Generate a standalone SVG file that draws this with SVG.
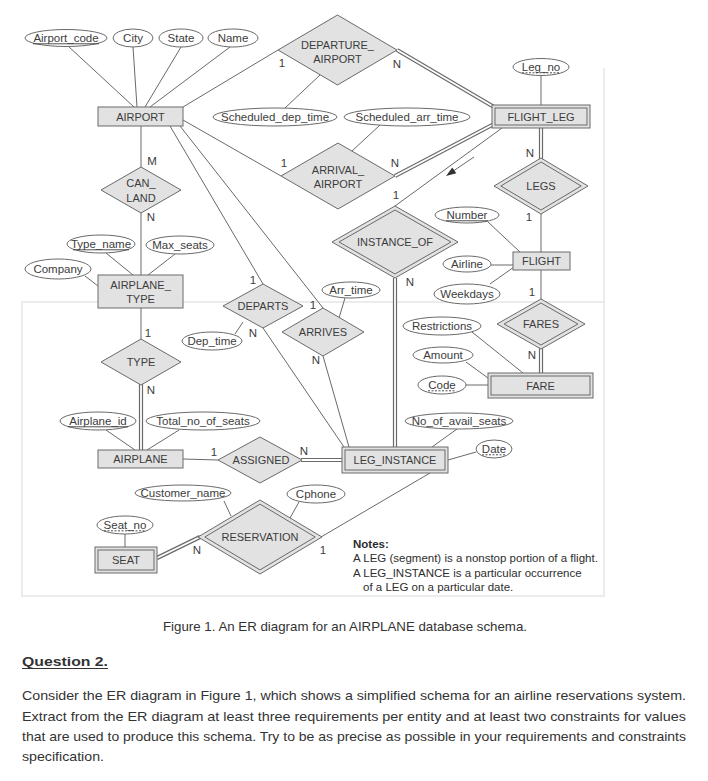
<svg xmlns="http://www.w3.org/2000/svg" width="708" height="781" viewBox="0 0 708 781">
<style>
.ln{stroke:#6a6a6a;stroke-width:1;fill:none}
.dbo{stroke:#6a6a6a;stroke-width:4.2;fill:none}
.dbi{stroke:#ffffff;stroke-width:1.8;fill:none}
.ent{fill:#e2e2e2;stroke:#6a6a6a;stroke-width:1}
.inner{fill:none;stroke:#6a6a6a;stroke-width:1}
.att{fill:#ffffff;stroke:#6a6a6a;stroke-width:1}
.t{font-family:"Liberation Sans",Arial,Helvetica,sans-serif;font-size:11.5px;fill:#3c3c3c;text-anchor:middle}
.c{font-family:"Liberation Sans",Arial,Helvetica,sans-serif;font-size:11px;fill:#3c3c3c;text-anchor:middle}
.ul{stroke:#3c3c3c;stroke-width:0.9}
.ud{stroke:#3c3c3c;stroke-width:0.9;stroke-dasharray:2,1.5}
.note{font-family:"Liberation Sans",Arial,Helvetica,sans-serif;font-size:11.5px;fill:#2e2e2e}
.body{font-family:"Liberation Sans",Arial,sans-serif;font-size:13px;fill:#333333}
.frame{stroke:#e6e6e6;stroke-width:1.5;fill:none}
</style>

<g id="frame">
<path class="frame" d="M604,68 V596 H22 V302 H604"/>
</g>

<g id="connectors">
<!-- AIRPORT attributes -->
<line class="ln" x1="68" y1="46" x2="134" y2="107"/>
<line class="ln" x1="133" y1="47" x2="137" y2="107"/>
<line class="ln" x1="181" y1="47" x2="145" y2="107"/>
<line class="ln" x1="230" y1="47" x2="150" y2="107"/>
<!-- AIRPORT to DEPARTURE_AIRPORT -->
<line class="ln" x1="183" y1="107" x2="278" y2="50"/>
<line class="ln" x1="285" y1="108" x2="320" y2="75"/>
<line class="dbo" x1="397" y1="50" x2="494" y2="107"/>
<line class="dbi" x1="397" y1="50" x2="494" y2="107"/>
<!-- ARRIVAL_AIRPORT -->
<line class="ln" x1="183" y1="120" x2="281" y2="176"/>
<line class="ln" x1="380" y1="125" x2="352" y2="151"/>
<line class="dbo" x1="395" y1="176" x2="494" y2="124"/>
<line class="dbi" x1="395" y1="176" x2="494" y2="124"/>
<!-- INSTANCE_OF -->
<line class="ln" x1="395" y1="206" x2="502" y2="128"/>
<line class="dbo" x1="395" y1="278" x2="395" y2="449"/>
<line class="dbi" x1="395" y1="278" x2="395" y2="449"/>
<!-- Instances arrow -->
<line class="ln" x1="474" y1="157" x2="454" y2="170.5"/>
<polygon points="446,176 456.3,173.3 452.3,167.5" fill="#333"/>
<!-- FLIGHT_LEG / LEGS / FLIGHT -->
<line class="ln" x1="541" y1="75" x2="541" y2="105"/>
<line class="dbo" x1="541" y1="126" x2="541" y2="160"/>
<line class="dbi" x1="541" y1="126" x2="541" y2="160"/>
<line class="ln" x1="541" y1="214" x2="541" y2="252"/>
<line class="ln" x1="488" y1="222" x2="520" y2="252"/>
<line class="ln" x1="491" y1="265" x2="513" y2="265"/>
<line class="ln" x1="490" y1="284" x2="514" y2="267"/>
<line class="ln" x1="541" y1="270" x2="541" y2="299"/>
<!-- FARES / FARE -->
<line class="dbo" x1="541" y1="347" x2="541" y2="375"/>
<line class="dbi" x1="541" y1="347" x2="541" y2="375"/>
<line class="ln" x1="472" y1="332" x2="523" y2="373"/>
<line class="ln" x1="466" y1="362" x2="488" y2="378"/>
<line class="ln" x1="466" y1="385" x2="488" y2="385"/>
<!-- LEG_INSTANCE attributes -->
<line class="ln" x1="457" y1="429" x2="432" y2="447"/>
<line class="ln" x1="476" y1="452" x2="448" y2="460"/>
<!-- CAN_LAND / AIRPLANE_TYPE -->
<line class="ln" x1="141" y1="126" x2="141" y2="167"/>
<line class="ln" x1="141" y1="213" x2="141" y2="275"/>
<line class="ln" x1="106" y1="253" x2="133" y2="275"/>
<line class="ln" x1="175" y1="254" x2="148" y2="275"/>
<line class="ln" x1="85" y1="276" x2="98" y2="286"/>
<!-- TYPE / AIRPLANE -->
<line class="ln" x1="141" y1="308" x2="141" y2="339"/>
<line class="dbo" x1="141" y1="384" x2="141" y2="451"/>
<line class="dbi" x1="141" y1="384" x2="141" y2="451"/>
<line class="ln" x1="106" y1="430" x2="135" y2="450"/>
<line class="ln" x1="179" y1="430" x2="147" y2="450"/>
<!-- ASSIGNED -->
<line class="ln" x1="183" y1="459" x2="218" y2="460"/>
<line class="dbo" x1="301" y1="460" x2="344" y2="460"/>
<line class="dbi" x1="301" y1="460" x2="344" y2="460"/>
<!-- DEPARTS / ARRIVES -->
<line class="ln" x1="170" y1="126" x2="263" y2="284"/>
<line class="ln" x1="180" y1="126" x2="323" y2="308"/>
<line class="ln" x1="235" y1="334" x2="243" y2="322"/>
<line class="ln" x1="263" y1="328" x2="344" y2="447"/>
<line class="ln" x1="345" y1="298" x2="339" y2="318"/>
<line class="ln" x1="323" y1="356" x2="349" y2="447"/>
<!-- RESERVATION -->
<line class="ln" x1="224" y1="501" x2="231" y2="516"/>
<line class="ln" x1="299" y1="502" x2="290" y2="518"/>
<line class="ln" x1="125" y1="534" x2="125" y2="547"/>
<line class="dbo" x1="157" y1="558" x2="200" y2="537"/>
<line class="dbi" x1="157" y1="558" x2="200" y2="537"/>
<line class="ln" x1="321" y1="537" x2="430" y2="473"/>
</g>

<!-- Entities -->
<g id="AIRPORT"><rect class="ent" x="98" y="107" width="85" height="19"/><text class="c" x="140.5" y="120.5">AIRPORT</text></g>
<g id="FLIGHT_LEG"><rect class="ent" x="492" y="105" width="98" height="23"/><rect class="inner" x="495" y="108" width="92" height="17"/><text class="c" x="541" y="120.5">FLIGHT_LEG</text></g>
<g id="FLIGHT"><rect class="ent" x="513" y="252" width="57" height="18"/><text class="c" x="541.5" y="265">FLIGHT</text></g>
<g id="FARE"><rect class="ent" x="488" y="373" width="105" height="25"/><rect class="inner" x="491" y="376" width="99" height="19"/><text class="c" x="540.5" y="389.5">FARE</text></g>
<g id="AIRPLANE_TYPE"><rect class="ent" x="98" y="275" width="85" height="33"/><text class="c" x="140.5" y="289">AIRPLANE_</text><text class="c" x="140.5" y="303">TYPE</text></g>
<g id="AIRPLANE"><rect class="ent" x="98" y="450" width="85" height="18"/><text class="c" x="140.5" y="463">AIRPLANE</text></g>
<g id="LEG_INSTANCE"><rect class="ent" x="342" y="447" width="106" height="26"/><rect class="inner" x="345" y="450" width="100" height="20"/><text class="c" x="395" y="464">LEG_INSTANCE</text></g>
<g id="SEAT"><rect class="ent" x="95" y="547" width="62" height="26"/><rect class="inner" x="98" y="550" width="56" height="20"/><text class="c" x="126" y="564">SEAT</text></g>

<!-- Relationships -->
<g id="DEPARTURE_AIRPORT"><polygon class="ent" points="337.5,15 397,50 337.5,85 278,50"/><text class="c" x="337.5" y="49">DEPARTURE_</text><text class="c" x="337.5" y="63">AIRPORT</text></g>
<g id="ARRIVAL_AIRPORT"><polygon class="ent" points="338,143 395,176 338,209 281,176"/><text class="c" x="338" y="174">ARRIVAL_</text><text class="c" x="338" y="187.5">AIRPORT</text></g>
<g id="CAN_LAND"><polygon class="ent" points="141,167 181,190 141,213 101,190"/><text class="c" x="141" y="187">CAN_</text><text class="c" x="141" y="201.5">LAND</text></g>
<g id="TYPE"><polygon class="ent" points="141,339 181,362 141,385 101,362"/><text class="c" x="141" y="366">TYPE</text></g>
<g id="DEPARTS"><polygon class="ent" points="263,284 303,306 263,328 223,306"/><text class="c" x="263" y="310">DEPARTS</text></g>
<g id="ARRIVES"><polygon class="ent" points="323,308 364,332 323,356 282,332"/><text class="c" x="323" y="336">ARRIVES</text></g>
<g id="ASSIGNED"><polygon class="ent" points="260,437 302,460 260,483 218,460"/><text class="c" x="261" y="464">ASSIGNED</text></g>
<g id="INSTANCE_OF"><polygon class="ent" points="395,206 458,242 395,278 332,242"/><polygon class="inner" points="395,210 451,242 395,274 339,242"/><text class="c" x="395" y="246">INSTANCE_OF</text></g>
<g id="LEGS"><polygon class="ent" points="541,158 588,186 541,214 494,186"/><polygon class="inner" points="541,162 581.2,186 541,210 500.8,186"/><text class="c" x="541" y="190">LEGS</text></g>
<g id="FARES"><polygon class="ent" points="541,299 585,324 541,349 497,324"/><polygon class="inner" points="541,303 577.9,324 541,345 504.1,324"/><text class="c" x="541" y="328">FARES</text></g>
<g id="RESERVATION"><polygon class="ent" points="260,500 322,537 260,574 198,537"/><polygon class="inner" points="260,504.1 315.2,537 260,569.9 204.8,537"/><text class="c" x="260" y="541">RESERVATION</text></g>

<!-- Attributes -->
<g id="Airport_code"><ellipse class="att" cx="66" cy="38" rx="41" ry="8.5"/><text class="t" x="66" y="42">Airport_code</text><line class="ul" x1="33" y1="43.8" x2="99" y2="43.8"/></g>
<g id="City"><ellipse class="att" cx="133" cy="38" rx="20" ry="9"/><text class="t" x="133" y="42">City</text></g>
<g id="State"><ellipse class="att" cx="181" cy="38" rx="22" ry="9"/><text class="t" x="181" y="42">State</text></g>
<g id="Name"><ellipse class="att" cx="233" cy="38" rx="25" ry="9"/><text class="t" x="233" y="42">Name</text></g>
<g id="Scheduled_dep_time"><ellipse class="att" cx="275" cy="117" rx="62" ry="9"/><text class="t" x="275" y="121">Scheduled_dep_time</text></g>
<g id="Scheduled_arr_time"><ellipse class="att" cx="407" cy="117" rx="63" ry="9"/><text class="t" x="407" y="121">Scheduled_arr_time</text></g>
<g id="Leg_no"><ellipse class="att" cx="541" cy="67" rx="28" ry="8.5"/><text class="t" x="541" y="71">Leg_no</text><line class="ud" x1="522" y1="72.8" x2="560" y2="72.8"/></g>
<g id="Type_name"><ellipse class="att" cx="101" cy="244" rx="34" ry="9"/><text class="t" x="101" y="248">Type_name</text><line class="ul" x1="73" y1="249.8" x2="129" y2="249.8"/></g>
<g id="Max_seats"><ellipse class="att" cx="180" cy="245" rx="34" ry="9"/><text class="t" x="180" y="249">Max_seats</text></g>
<g id="Company"><ellipse class="att" cx="58" cy="269" rx="33" ry="10"/><text class="t" x="58" y="273">Company</text></g>
<g id="Number"><ellipse class="att" cx="467" cy="215" rx="32" ry="8"/><text class="t" x="467" y="219">Number</text><line class="ul" x1="446" y1="220.8" x2="488" y2="220.8"/></g>
<g id="Airline"><ellipse class="att" cx="467" cy="264" rx="24" ry="8"/><text class="t" x="467" y="268">Airline</text></g>
<g id="Weekdays"><ellipse class="att" cx="467" cy="294" rx="33" ry="10"/><text class="t" x="467" y="298">Weekdays</text></g>
<g id="Arr_time"><ellipse class="att" cx="351" cy="290" rx="29" ry="8"/><text class="t" x="351" y="294">Arr_time</text></g>
<g id="Dep_time"><ellipse class="att" cx="212" cy="341" rx="30" ry="9"/><text class="t" x="212" y="345">Dep_time</text></g>
<g id="Restrictions"><ellipse class="att" cx="442" cy="326" rx="39" ry="9"/><text class="t" x="442" y="330">Restrictions</text></g>
<g id="Amount"><ellipse class="att" cx="443" cy="355" rx="30" ry="8"/><text class="t" x="443" y="359">Amount</text></g>
<g id="Code"><ellipse class="att" cx="442" cy="385" rx="24" ry="9"/><text class="t" x="442" y="389">Code</text><line class="ud" x1="428" y1="390.8" x2="456" y2="390.8"/></g>
<g id="No_of_avail_seats"><ellipse class="att" cx="459" cy="421" rx="54" ry="8"/><text class="t" x="459" y="425">No_of_avail_seats</text></g>
<g id="Date"><ellipse class="att" cx="494" cy="449" rx="18" ry="9"/><text class="t" x="494" y="453">Date</text><line class="ud" x1="482" y1="454.8" x2="506" y2="454.8"/></g>
<g id="Airplane_id"><ellipse class="att" cx="98" cy="421" rx="38" ry="9"/><text class="t" x="98" y="425">Airplane_id</text><line class="ul" x1="68" y1="426.8" x2="128" y2="426.8"/></g>
<g id="Total_no_of_seats"><ellipse class="att" cx="203" cy="421" rx="57" ry="9"/><text class="t" x="203" y="425">Total_no_of_seats</text></g>
<g id="Customer_name"><ellipse class="att" cx="183" cy="493" rx="48" ry="8"/><text class="t" x="183" y="497">Customer_name</text></g>
<g id="Cphone"><ellipse class="att" cx="316" cy="494" rx="29" ry="9"/><text class="t" x="316" y="498">Cphone</text></g>
<g id="Seat_no"><ellipse class="att" cx="125" cy="525" rx="28" ry="9"/><text class="t" x="125" y="529">Seat_no</text><line class="ud" x1="104" y1="530.8" x2="146" y2="530.8"/></g>

<!-- Cardinality labels -->
<g id="labels">
<text class="t" x="282" y="67">1</text>
<text class="t" x="397" y="68">N</text>
<text class="t" x="284" y="167">1</text>
<text class="t" x="395" y="167">N</text>
<text class="t" x="396" y="199">1</text>
<text class="t" x="410" y="286">N</text>
<text class="t" x="530" y="157">N</text>
<text class="t" x="529" y="221">1</text>
<text class="t" x="532" y="296">1</text>
<text class="t" x="532" y="359">N</text>
<text class="t" x="152" y="165">M</text>
<text class="t" x="151" y="221">N</text>
<text class="t" x="148" y="337">1</text>
<text class="t" x="151" y="394">N</text>
<text class="t" x="253" y="284">1</text>
<text class="t" x="253" y="337">N</text>
<text class="t" x="313" y="309">1</text>
<text class="t" x="316" y="364">N</text>
<text class="t" x="214" y="456">1</text>
<text class="t" x="304" y="455">N</text>
<text class="t" x="197" y="554">N</text>
<text class="t" x="323" y="554">1</text>
</g>

<g id="notes">
<text class="note" x="353" y="548" font-weight="bold">Notes:</text>
<text class="note" x="353" y="562">A LEG (segment) is a nonstop portion of a flight.</text>
<text class="note" x="353" y="577">A LEG_INSTANCE is a particular occurrence</text>
<text class="note" x="363" y="591">of a LEG on a particular date.</text>
</g>

<g id="caption">
<text class="body" x="163" y="631" textLength="364" lengthAdjust="spacingAndGlyphs">Figure 1. An ER diagram for an AIRPLANE database schema.</text>
<text class="body" x="22" y="666" font-weight="bold" textLength="86" lengthAdjust="spacingAndGlyphs">Question 2.</text>
<line x1="22" y1="668.5" x2="108" y2="668.5" stroke="#333" stroke-width="1"/>
<text class="body" x="22" y="700" textLength="664" lengthAdjust="spacingAndGlyphs">Consider the ER diagram in Figure 1, which shows a simplified schema for an airline reservations system.</text>
<text class="body" x="22" y="721" textLength="664" lengthAdjust="spacingAndGlyphs">Extract from the ER diagram at least three requirements per entity and at least two constraints for values</text>
<text class="body" x="22" y="741" textLength="664" lengthAdjust="spacingAndGlyphs">that are used to produce this schema. Try to be as precise as possible in your requirements and constraints</text>
<text class="body" x="22" y="761" textLength="82" lengthAdjust="spacingAndGlyphs">specification.</text>
</g>
</svg>
